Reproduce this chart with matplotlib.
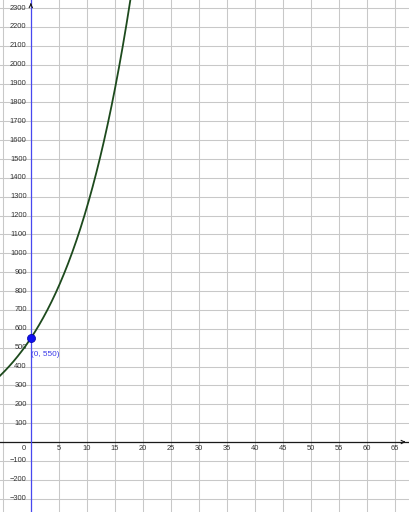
import numpy as np
import matplotlib
matplotlib.use("Agg")
import matplotlib.pyplot as plt

# function shown: f(x) = a * b^x
initial_value = 550
growth_factor = 1.085
point = (0, 550)
point_label = "(0, 550)"

x_ticks = list(range(5, 70, 5))
y_ticks = [y for y in range(-300, 2400, 100) if y != 0]

x_min, x_max = -5.5, 67.5
y_min, y_max = -371, 2343

fig = plt.figure(figsize=(4.09, 5.12), dpi=100)
ax = fig.add_axes([0, 0, 1, 1])
ax.set_xlim(x_min, x_max)
ax.set_ylim(y_min, y_max)
for s in ax.spines.values():
    s.set_visible(False)
ax.set_xticks([])
ax.set_yticks([])

# grid
for gx in np.arange(-5, 70, 5):
    ax.axvline(gx, color="#c8c8c8", lw=0.75, zorder=0)
for gy in np.arange(-300, 2400, 100):
    ax.axhline(gy, color="#c8c8c8", lw=0.75, zorder=0)

# axes
ax.axhline(0, color="#1a1a1a", lw=0.9, zorder=1)
ax.axvline(0, color="#4848f0", lw=0.9, zorder=1)
ax.annotate("", xy=(x_max - 0.1, 0), xytext=(x_max - 1.5, 0),
            arrowprops=dict(arrowstyle="->", color="#1a1a1a", lw=0.8,
                            mutation_scale=6))
ax.annotate("", xy=(0, y_max - 2), xytext=(0, y_max - 40),
            arrowprops=dict(arrowstyle="->", color="#1a1a1a", lw=0.8,
                            mutation_scale=6))

# tick labels
lbl = dict(fontsize=5.4, color="#333333", family="Liberation Sans")
for t in x_ticks:
    ax.annotate(str(t), (t, 0), xytext=(0, -5), textcoords="offset points",
                ha="center", va="center", **lbl)
for t in y_ticks:
    txt = str(t).replace("-", "\u2212")
    ax.annotate(txt, (0, t), xytext=(-3, 0), textcoords="offset points",
                ha="right", va="center", **lbl)
ax.annotate("0", (0, 0), xytext=(-5, -5), textcoords="offset points",
            ha="center", va="center", **lbl)

# curve
xs = np.linspace(x_min, 19, 400)
ax.plot(xs, initial_value * growth_factor ** xs, color="#1d4a1d", lw=1.3, zorder=3)

# point
ax.plot(point[0], point[1], "o", color="#1010f0", mec="#0000a0", mew=0.5,
        ms=5.8, zorder=4)
ax.annotate(point_label, point, xytext=(0.3, -11.5), textcoords="offset points",
            ha="left", va="center", fontsize=5.9, color="#3a3ae8",
            family="Liberation Sans")

fig.savefig("out.png", dpi=100)
